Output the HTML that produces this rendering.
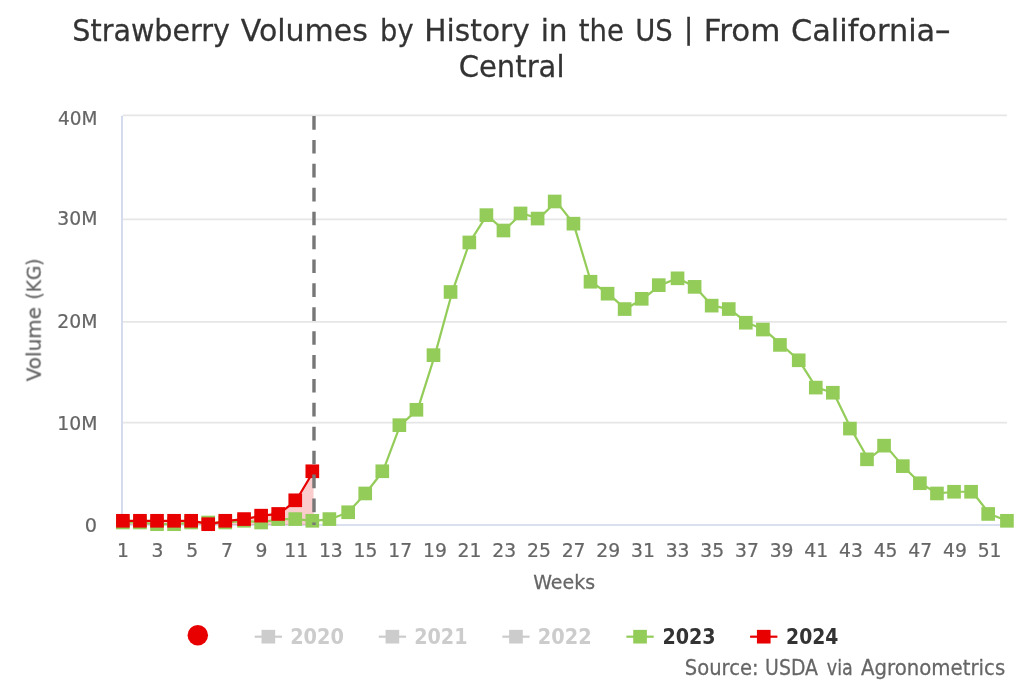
<!DOCTYPE html>
<html><head><meta charset="utf-8"><style>
html,body{margin:0;padding:0;background:#fff;}
svg{display:block;will-change:transform;}
</style></head><body>
<svg width="1024" height="683" viewBox="0 0 600 400" preserveAspectRatio="none">
<rect width="600" height="400" fill="#ffffff"/>
<path d="M72 67.53H590" stroke="#e6e6e6" stroke-width="1"/>
<path d="M72 128.49H590" stroke="#e6e6e6" stroke-width="1"/>
<path d="M72 188.46H590" stroke="#e6e6e6" stroke-width="1"/>
<path d="M72 247.5H590" stroke="#e6e6e6" stroke-width="1"/>
<path d="M72 307.47H590" stroke="#ccd6eb" stroke-width="1"/>
<path d="M71.48 67.82V307.47" stroke="#ccd6eb" stroke-width="1"/>
<path d="M72 305 L82.16 305 L92.31 305 L102.47 305 L112.63 305 L122.78 307 L132.94 305 L143.1 304 L153.25 302 L163.41 301 L173.57 293 L183.73 276 L183.73 307.47 L72 307.47Z" fill="rgba(232,0,0,0.2)"/>
<path d="M72 306 L82.16 306 L92.31 307 L102.47 307 L112.63 306 L122.78 306 L132.94 306 L143.1 305 L153.25 306 L163.41 304 L173.57 304 L183.73 305 L193.88 304 L204.04 300 L214.2 289 L224.35 276 L234.51 249 L244.67 240 L254.82 208 L264.98 171 L275.14 142 L285.29 126 L295.45 135 L305.61 125 L315.76 128 L325.92 118 L336.08 131 L346.24 165 L356.39 172 L366.55 181 L376.71 175 L386.86 167 L397.02 163 L407.18 168 L417.33 179 L427.49 181 L437.65 189 L447.8 193 L457.96 202 L468.12 211 L478.27 227 L488.43 230 L498.59 251 L508.75 269 L518.9 261 L529.06 273 L539.22 283 L549.37 289 L559.53 288 L569.69 288 L579.84 301 L590 305" fill="none" stroke="#94cc5a" stroke-width="1.3" stroke-linejoin="round" stroke-linecap="round"/><g fill="#94cc5a"><rect x="68" y="302" width="8" height="8"/><rect x="78" y="302" width="8" height="8"/><rect x="88" y="303" width="8" height="8"/><rect x="98" y="303" width="8" height="8"/><rect x="108" y="302" width="8" height="8"/><rect x="118" y="302" width="8" height="8"/><rect x="128" y="302" width="8" height="8"/><rect x="139" y="301" width="8" height="8"/><rect x="149" y="302" width="8" height="8"/><rect x="159" y="300" width="8" height="8"/><rect x="169" y="300" width="8" height="8"/><rect x="179" y="301" width="8" height="8"/><rect x="189" y="300" width="8" height="8"/><rect x="200" y="296" width="8" height="8"/><rect x="210" y="285" width="8" height="8"/><rect x="220" y="272" width="8" height="8"/><rect x="230" y="245" width="8" height="8"/><rect x="240" y="236" width="8" height="8"/><rect x="250" y="204" width="8" height="8"/><rect x="260" y="167" width="8" height="8"/><rect x="271" y="138" width="8" height="8"/><rect x="281" y="122" width="8" height="8"/><rect x="291" y="131" width="8" height="8"/><rect x="301" y="121" width="8" height="8"/><rect x="311" y="124" width="8" height="8"/><rect x="321" y="114" width="8" height="8"/><rect x="332" y="127" width="8" height="8"/><rect x="342" y="161" width="8" height="8"/><rect x="352" y="168" width="8" height="8"/><rect x="362" y="177" width="8" height="8"/><rect x="372" y="171" width="8" height="8"/><rect x="382" y="163" width="8" height="8"/><rect x="393" y="159" width="8" height="8"/><rect x="403" y="164" width="8" height="8"/><rect x="413" y="175" width="8" height="8"/><rect x="423" y="177" width="8" height="8"/><rect x="433" y="185" width="8" height="8"/><rect x="443" y="189" width="8" height="8"/><rect x="453" y="198" width="8" height="8"/><rect x="464" y="207" width="8" height="8"/><rect x="474" y="223" width="8" height="8"/><rect x="484" y="226" width="8" height="8"/><rect x="494" y="247" width="8" height="8"/><rect x="504" y="265" width="8" height="8"/><rect x="514" y="257" width="8" height="8"/><rect x="525" y="269" width="8" height="8"/><rect x="535" y="279" width="8" height="8"/><rect x="545" y="285" width="8" height="8"/><rect x="555" y="284" width="8" height="8"/><rect x="565" y="284" width="8" height="8"/><rect x="575" y="297" width="8" height="8"/><rect x="586" y="301" width="8" height="8"/></g>
<path d="M72 305 L82.16 305 L92.31 305 L102.47 305 L112.63 305 L122.78 307 L132.94 305 L143.1 304 L153.25 302 L163.41 301 L173.57 293 L183.73 276" fill="none" stroke="#e80000" stroke-width="1.3" stroke-linejoin="round" stroke-linecap="round"/><g fill="#e80000"><rect x="68" y="301" width="8" height="8"/><rect x="78" y="301" width="8" height="8"/><rect x="88" y="301" width="8" height="8"/><rect x="98" y="301" width="8" height="8"/><rect x="108" y="301" width="8" height="8"/><rect x="118" y="303" width="8" height="8"/><rect x="128" y="301" width="8" height="8"/><rect x="139" y="300" width="8" height="8"/><rect x="149" y="298" width="8" height="8"/><rect x="159" y="297" width="8" height="8"/><rect x="169" y="289" width="8" height="8"/><rect x="179" y="272" width="8" height="8"/></g>
<path d="M183.98 67.94V307.47" stroke="#777" stroke-width="2" stroke-dasharray="8,6"/>
<text y="23.78" font-size="17.8" font-weight="normal" fill="#333333" font-family="'DejaVu Sans', sans-serif" stroke="#333333" stroke-width="0.15"><tspan x="42.34" textLength="92.46" lengthAdjust="spacingAndGlyphs">Strawberry</tspan> <tspan x="141.04" textLength="74.51" lengthAdjust="spacingAndGlyphs">Volumes</tspan> <tspan x="222.72" textLength="19.58" lengthAdjust="spacingAndGlyphs">by</tspan> <tspan x="248.64" textLength="61.76" lengthAdjust="spacingAndGlyphs">History</tspan> <tspan x="316.79" textLength="15.82" lengthAdjust="spacingAndGlyphs">in</tspan> <tspan x="339.08" textLength="26.47" lengthAdjust="spacingAndGlyphs">the</tspan> <tspan x="372.24" textLength="21.95" lengthAdjust="spacingAndGlyphs">US</tspan> <tspan x="400.69" dy="-1.22" font-size="16.3" textLength="5.7" lengthAdjust="spacingAndGlyphs">|</tspan> <tspan x="412.3" dy="1.22" textLength="44.96" lengthAdjust="spacingAndGlyphs">From</tspan> <tspan x="463.48" textLength="84.5" lengthAdjust="spacingAndGlyphs">California</tspan><tspan x="547.36" dy="-0.45" textLength="9.92" lengthAdjust="spacingAndGlyphs">-</tspan></text>
<text x="268.74" y="44.86" font-size="17.8" font-weight="normal" fill="#333333" font-family="'DejaVu Sans', sans-serif" textLength="62.03" lengthAdjust="spacingAndGlyphs" stroke="#333333" stroke-width="0.15">Central</text>
<text x="33.93" y="73.21" font-size="11" font-weight="normal" fill="#666666" font-family="'DejaVu Sans', sans-serif" textLength="23.12" lengthAdjust="spacingAndGlyphs" stroke="#666666" stroke-width="0.12">40M</text>
<text x="33.51" y="132.06" font-size="11" font-weight="normal" fill="#666666" font-family="'DejaVu Sans', sans-serif" textLength="23.54" lengthAdjust="spacingAndGlyphs" stroke="#666666" stroke-width="0.12">30M</text>
<text x="33.51" y="192.15" font-size="11" font-weight="normal" fill="#666666" font-family="'DejaVu Sans', sans-serif" textLength="23.54" lengthAdjust="spacingAndGlyphs" stroke="#666666" stroke-width="0.12">20M</text>
<text x="33.51" y="252.12" font-size="11" font-weight="normal" fill="#666666" font-family="'DejaVu Sans', sans-serif" textLength="23.54" lengthAdjust="spacingAndGlyphs" stroke="#666666" stroke-width="0.12">10M</text>
<text x="49.73" y="311.86" font-size="11" font-weight="normal" fill="#666666" font-family="'DejaVu Sans', sans-serif" textLength="7.21" lengthAdjust="spacingAndGlyphs" stroke="#666666" stroke-width="0.12">0</text>
<text x="72" y="326.38" text-anchor="middle" font-size="11" fill="#666666" stroke="#666666" stroke-width="0.12" font-family="'DejaVu Sans', sans-serif">1</text>
<text x="92.31" y="326.38" text-anchor="middle" font-size="11" fill="#666666" stroke="#666666" stroke-width="0.12" font-family="'DejaVu Sans', sans-serif">3</text>
<text x="112.63" y="326.38" text-anchor="middle" font-size="11" fill="#666666" stroke="#666666" stroke-width="0.12" font-family="'DejaVu Sans', sans-serif">5</text>
<text x="132.94" y="326.38" text-anchor="middle" font-size="11" fill="#666666" stroke="#666666" stroke-width="0.12" font-family="'DejaVu Sans', sans-serif">7</text>
<text x="153.25" y="326.38" text-anchor="middle" font-size="11" fill="#666666" stroke="#666666" stroke-width="0.12" font-family="'DejaVu Sans', sans-serif">9</text>
<text x="173.57" y="326.38" text-anchor="middle" font-size="11" fill="#666666" stroke="#666666" stroke-width="0.12" font-family="'DejaVu Sans', sans-serif">11</text>
<text x="193.88" y="326.38" text-anchor="middle" font-size="11" fill="#666666" stroke="#666666" stroke-width="0.12" font-family="'DejaVu Sans', sans-serif">13</text>
<text x="214.2" y="326.38" text-anchor="middle" font-size="11" fill="#666666" stroke="#666666" stroke-width="0.12" font-family="'DejaVu Sans', sans-serif">15</text>
<text x="234.51" y="326.38" text-anchor="middle" font-size="11" fill="#666666" stroke="#666666" stroke-width="0.12" font-family="'DejaVu Sans', sans-serif">17</text>
<text x="254.82" y="326.38" text-anchor="middle" font-size="11" fill="#666666" stroke="#666666" stroke-width="0.12" font-family="'DejaVu Sans', sans-serif">19</text>
<text x="275.14" y="326.38" text-anchor="middle" font-size="11" fill="#666666" stroke="#666666" stroke-width="0.12" font-family="'DejaVu Sans', sans-serif">21</text>
<text x="295.45" y="326.38" text-anchor="middle" font-size="11" fill="#666666" stroke="#666666" stroke-width="0.12" font-family="'DejaVu Sans', sans-serif">23</text>
<text x="315.76" y="326.38" text-anchor="middle" font-size="11" fill="#666666" stroke="#666666" stroke-width="0.12" font-family="'DejaVu Sans', sans-serif">25</text>
<text x="336.08" y="326.38" text-anchor="middle" font-size="11" fill="#666666" stroke="#666666" stroke-width="0.12" font-family="'DejaVu Sans', sans-serif">27</text>
<text x="356.39" y="326.38" text-anchor="middle" font-size="11" fill="#666666" stroke="#666666" stroke-width="0.12" font-family="'DejaVu Sans', sans-serif">29</text>
<text x="376.71" y="326.38" text-anchor="middle" font-size="11" fill="#666666" stroke="#666666" stroke-width="0.12" font-family="'DejaVu Sans', sans-serif">31</text>
<text x="397.02" y="326.38" text-anchor="middle" font-size="11" fill="#666666" stroke="#666666" stroke-width="0.12" font-family="'DejaVu Sans', sans-serif">33</text>
<text x="417.33" y="326.38" text-anchor="middle" font-size="11" fill="#666666" stroke="#666666" stroke-width="0.12" font-family="'DejaVu Sans', sans-serif">35</text>
<text x="437.65" y="326.38" text-anchor="middle" font-size="11" fill="#666666" stroke="#666666" stroke-width="0.12" font-family="'DejaVu Sans', sans-serif">37</text>
<text x="457.96" y="326.38" text-anchor="middle" font-size="11" fill="#666666" stroke="#666666" stroke-width="0.12" font-family="'DejaVu Sans', sans-serif">39</text>
<text x="478.27" y="326.38" text-anchor="middle" font-size="11" fill="#666666" stroke="#666666" stroke-width="0.12" font-family="'DejaVu Sans', sans-serif">41</text>
<text x="498.59" y="326.38" text-anchor="middle" font-size="11" fill="#666666" stroke="#666666" stroke-width="0.12" font-family="'DejaVu Sans', sans-serif">43</text>
<text x="518.9" y="326.38" text-anchor="middle" font-size="11" fill="#666666" stroke="#666666" stroke-width="0.12" font-family="'DejaVu Sans', sans-serif">45</text>
<text x="539.22" y="326.38" text-anchor="middle" font-size="11" fill="#666666" stroke="#666666" stroke-width="0.12" font-family="'DejaVu Sans', sans-serif">47</text>
<text x="559.53" y="326.38" text-anchor="middle" font-size="11" fill="#666666" stroke="#666666" stroke-width="0.12" font-family="'DejaVu Sans', sans-serif">49</text>
<text x="579.84" y="326.38" text-anchor="middle" font-size="11" fill="#666666" stroke="#666666" stroke-width="0.12" font-family="'DejaVu Sans', sans-serif">51</text>
<text x="312.42" y="344.95" font-size="11.4" font-weight="normal" fill="#666666" font-family="'DejaVu Sans', sans-serif" textLength="36.28" lengthAdjust="spacingAndGlyphs" stroke="#666666" stroke-width="0.15">Weeks</text>
<g transform="translate(23.67 0) rotate(-90)" font-size="11.4" fill="#666666" stroke="#666666" stroke-width="0.15" font-family="'DejaVu Sans', sans-serif"><text y="0"><tspan x="-223.31" textLength="43.51" lengthAdjust="spacingAndGlyphs">Volume</tspan> <tspan x="-175.5" textLength="24.15" lengthAdjust="spacingAndGlyphs">(KG)</tspan></text></g>
<circle cx="115.9" cy="372.01" r="6" fill="#e80000"/>
<path d="M149.24 372.88h16" stroke="#cccccc" stroke-width="1.3"/>
<rect x="153.24" y="368.88" width="8" height="8" fill="#cccccc"/>
<text x="170.01" y="376.87" font-size="12" font-weight="bold" fill="#cccccc" font-family="'DejaVu Sans', sans-serif" textLength="31.55" lengthAdjust="spacingAndGlyphs">2020</text>
<path d="M221.92 372.88h16" stroke="#cccccc" stroke-width="1.3"/>
<rect x="225.92" y="368.88" width="8" height="8" fill="#cccccc"/>
<text x="242.67" y="376.87" font-size="12" font-weight="bold" fill="#cccccc" font-family="'DejaVu Sans', sans-serif" textLength="31.25" lengthAdjust="spacingAndGlyphs">2021</text>
<path d="M294.32 372.88h16" stroke="#cccccc" stroke-width="1.3"/>
<rect x="298.32" y="368.88" width="8" height="8" fill="#cccccc"/>
<text x="315.15" y="376.87" font-size="12" font-weight="bold" fill="#cccccc" font-family="'DejaVu Sans', sans-serif" textLength="31.55" lengthAdjust="spacingAndGlyphs">2022</text>
<path d="M367.03 372.88h16" stroke="#94cc5a" stroke-width="1.3"/>
<rect x="371.03" y="368.88" width="8" height="8" fill="#94cc5a"/>
<text x="388.16" y="376.87" font-size="12" font-weight="bold" fill="#333333" font-family="'DejaVu Sans', sans-serif" textLength="31.19" lengthAdjust="spacingAndGlyphs">2023</text>
<path d="M439.51 372.88h16" stroke="#e80000" stroke-width="1.3"/>
<rect x="443.51" y="368.88" width="8" height="8" fill="#e80000"/>
<text x="460.59" y="376.87" font-size="12" font-weight="bold" fill="#333333" font-family="'DejaVu Sans', sans-serif" textLength="30.69" lengthAdjust="spacingAndGlyphs">2024</text>
<text y="395.37" font-size="12.2" font-weight="normal" fill="#666666" font-family="'DejaVu Sans', sans-serif" stroke="#666666" stroke-width="0.15"><tspan x="401.29" textLength="43.2" lengthAdjust="spacingAndGlyphs">Source:</tspan> <tspan x="448.3" textLength="31" lengthAdjust="spacingAndGlyphs">USDA</tspan> <tspan x="484.45" textLength="15.31" lengthAdjust="spacingAndGlyphs">via</tspan> <tspan x="504.49" textLength="84.51" lengthAdjust="spacingAndGlyphs">Agronometrics</tspan></text>
</svg>
</body></html>
